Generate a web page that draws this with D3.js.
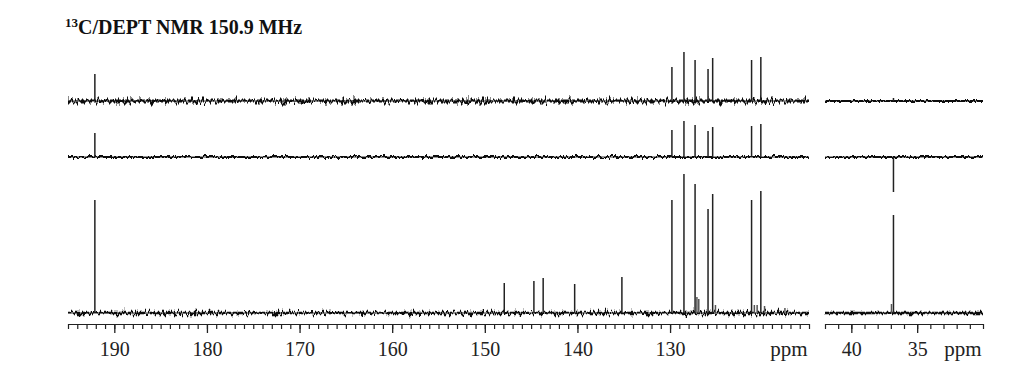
<!DOCTYPE html>
<html>
<head>
<meta charset="utf-8">
<script src="https://cdn.jsdelivr.net/npm/d3@7"></script>
<style>
  body { margin: 0; background: #fff; }
  svg { display: block; }
  .tick text { font-family: "Liberation Serif", "DejaVu Serif", serif; }
</style>
</head>
<body>
<div id="vis"></div>
<script>
// peak positions (ppm) and heights
const ppmCH = [192.1, 129.8, 128.5, 127.3, 125.9, 125.4, 121.2, 120.2];
const dept90 = [27, 34, 49, 41, 32, 43, 41, 44];
const dept135 = [24, 27, 36, 32, 26, 30, 31, 33];

const ppmC = [192.1, 147.9, 144.7, 143.7, 140.3, 135.2, 129.8, 128.5, 127.3, 125.9, 125.4, 121.2, 120.2];
const carbon = [113, 30, 32, 35, 29, 36, 113, 139, 129, 104, 119, 113, 122];
const ppmSmall = [127.1, 126.9, 125.1, 120.9, 120.6, 119.8, 117.6];
const carbonSmall = [16, 14, 8, 8, 8, 7, 5];

// aliphatic part (right panel)
const ppmAli = [36.8];
const dept90Ali = [3];
const dept135Ali = [-35];
const carbonAli = [98];
const ppmAliSmall = [36.95];
const carbonAliSmall = [9];

const ticksLeft = [190, 180, 170, 160, 150, 140, 130];
const ticksRight = [40, 35];

const W = 1011, H = 377;
const axisY = 324;
const base = { d90: 101, d135: 157, c: 313 };

const svg = d3.select("#vis").append("svg")
  .attr("width", W).attr("height", H)
  .attr("viewBox", "0 0 " + W + " " + H);

// baseline noise texture
const defs = svg.append("defs");
function noiseFilter(id, amount, seed) {
  const f = defs.append("filter").attr("id", id)
    .attr("filterUnits", "userSpaceOnUse")
    .attr("x", 0).attr("y", 0).attr("width", W).attr("height", H);
  f.append("feTurbulence")
    .attr("type", "fractalNoise")
    .attr("baseFrequency", "0.45 0.08")
    .attr("numOctaves", 2)
    .attr("seed", seed)
    .attr("result", "n");
  f.append("feDisplacementMap")
    .attr("in", "SourceGraphic").attr("in2", "n")
    .attr("scale", amount)
    .attr("xChannelSelector", "R").attr("yChannelSelector", "G");
}
noiseFilter("nz90", 12, 3);
noiseFilter("nz135", 6, 7);
noiseFilter("nzC", 11, 11);
noiseFilter("nzThin", 5, 5);

// scales
const xL = d3.scaleLinear().domain([195, 115]).range([68, 809]);
const xR = d3.scaleLinear().domain([42, 30]).range([825, 983]);

function yFor(b) {
  return d3.scaleLinear().domain([0, 100]).range([b, b - 100]);
}
const y90 = yFor(base.d90), y135 = yFor(base.d135), yC = yFor(base.c);

// draw one trace in one panel; nw = width of the noisy baseline (0 = none)
function trace(x, y, ppm, vals, filt, nw, color) {
  const g = svg.append("g");
  const [a, b] = x.domain();
  if (nw) {
    g.append("line")
      .attr("x1", x(a)).attr("x2", x(b))
      .attr("y1", y(0)).attr("y2", y(0))
      .attr("stroke", "#333").attr("stroke-width", 1);
    g.append("line")
      .attr("x1", x(a)).attr("x2", x(b))
      .attr("y1", y(0)).attr("y2", y(0))
      .attr("stroke", "#111").attr("stroke-width", nw)
      .attr("filter", "url(#" + filt + ")");
  }
  g.selectAll("line.pk")
    .data(ppm)
    .join("line")
    .attr("class", "pk")
    .attr("x1", d => x(d)).attr("x2", d => x(d))
    .attr("y1", y(0))
    .attr("y2", (d, i) => y(vals[i]))
    .attr("stroke", color || "#222")
    .attr("stroke-width", 1.5);
  return g;
}

trace(xL, y90, ppmCH, dept90, "nz90", 2.8);
trace(xL, y135, ppmCH, dept135, "nz135", 2);
trace(xL, yC, ppmC, carbon, "nzC", 2.6);
trace(xL, yC, ppmSmall, carbonSmall, "nzC", 0, "#555");

trace(xR, y90, ppmAli, dept90Ali, "nzThin", 1.8);
trace(xR, y135, ppmAli, dept135Ali, "nzThin", 2);
trace(xR, yC, ppmAli, carbonAli, "nz135", 2.3);
trace(xR, yC, ppmAliSmall, carbonAliSmall, "nz135", 0, "#555");

// axes
function drawAxis(x, majors) {
  const [a, b] = x.domain();
  const lo = Math.min(a, b), hi = Math.max(a, b);
  const g = svg.append("g").attr("transform", "translate(0," + axisY + ")");
  g.append("g")
    .call(d3.axisBottom(x).tickValues(d3.range(lo, hi + 0.5, 1))
      .tickSize(5).tickSizeOuter(0).tickFormat(""))
    .call(s => s.selectAll("line, path").attr("stroke", "#222").attr("stroke-width", 1.2));
  g.append("g")
    .call(d3.axisBottom(x).tickValues(majors)
      .tickSize(9).tickSizeOuter(0).tickPadding(9))
    .call(s => s.select(".domain").remove())
    .call(s => s.selectAll("line").attr("stroke", "#222").attr("stroke-width", 1.3))
    .call(s => s.selectAll("text").attr("font-size", 20).attr("fill", "#222"));
  return g;
}
drawAxis(xL, ticksLeft);
drawAxis(xR, ticksRight);

// unit labels
svg.selectAll("text.unit")
  .data([789, 963])
  .join("text")
  .attr("class", "unit")
  .attr("x", d => d).attr("y", 356)
  .attr("text-anchor", "middle")
  .attr("font-family", "Liberation Serif, serif")
  .attr("font-size", 21)
  .attr("fill", "#222")
  .text("ppm");

// title
svg.append("text")
  .attr("x", 65).attr("y", 34)
  .attr("font-family", "Liberation Serif, serif")
  .attr("font-weight", "bold")
  .attr("font-size", 20)
  .attr("fill", "#111")
  .html('<tspan font-size="13" dy="-7">13</tspan><tspan dy="7">C/DEPT NMR 150.9 MHz</tspan>');
</script>
</body>
</html>
